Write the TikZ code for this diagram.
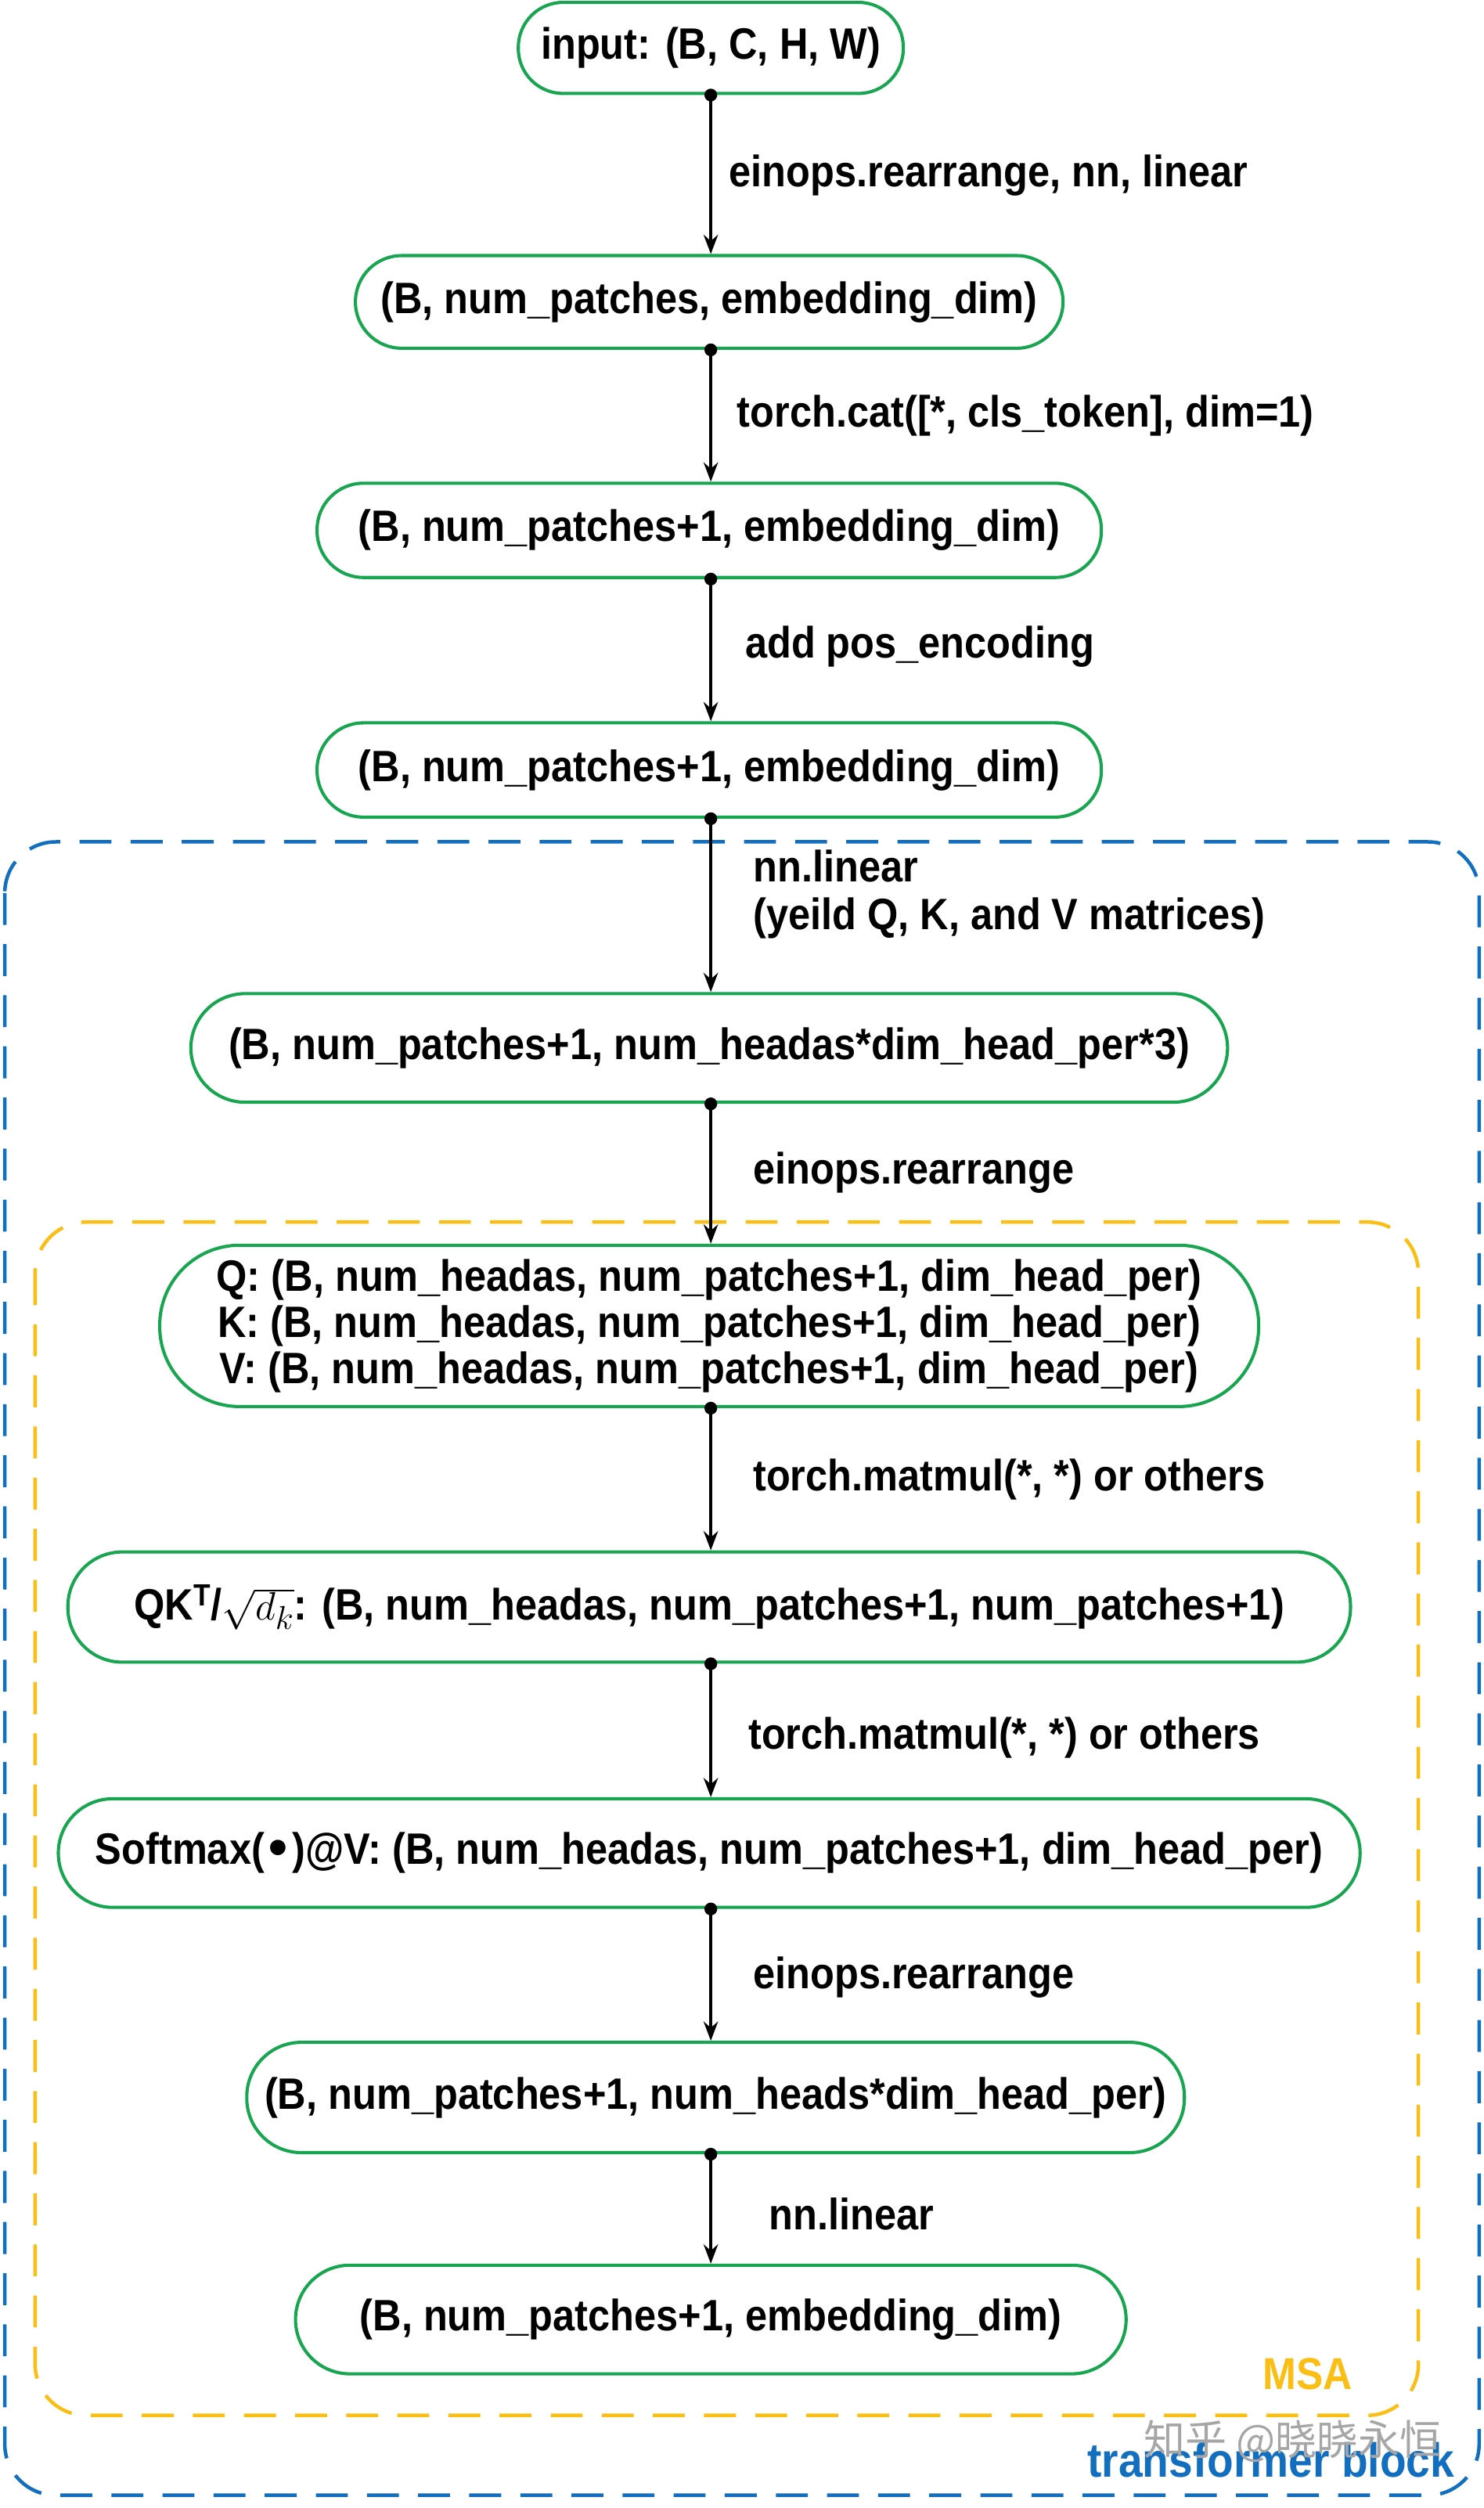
\documentclass[tikz,border=0pt]{standalone}
\usepackage{fontspec}
\setmainfont{Liberation Sans}[FakeStretch=0.9]
\newfontfamily\cjk{Noto Sans CJK SC}
\usetikzlibrary{arrows.meta}
\definecolor{gr}{RGB}{24,165,80}
\definecolor{bl}{RGB}{18,110,190}
\definecolor{yl}{RGB}{250,190,20}
\tikzset{
 box/.style={draw=gr,line width=2pt,rounded corners=#1,inner sep=0pt,font=\fontsize{27.5}{29}\selectfont\bfseries,align=center},
 conn/.style={line width=1.8pt,-{Stealth[length=12pt,width=9pt]}},
 lab/.style={anchor=west,font=\fontsize{27.5}{30}\selectfont\bfseries,align=left},
 dotc/.style={fill,circle,inner sep=0pt,minimum size=8pt}
}
\begin{document}
\begin{tikzpicture}[x=1pt,y=-1pt]
\useasboundingbox (0,0) rectangle (929,1570);
\draw[bl,line width=2.2pt,dash pattern=on 20pt off 12pt,rounded corners=32pt] (3,527) rectangle (926,1562);
\draw[yl,line width=2.2pt,dash pattern=on 20pt off 12pt,rounded corners=32pt] (22,765) rectangle (888,1512);
\node[box=28pt,minimum width=241pt,minimum height=57pt] (n1) at (445,30) {input: (B, C, H, W)};
\node[box=29pt,minimum width=443pt,minimum height=58pt] (n2) at (444,189) {(B, num\_patches, embedding\_dim)};
\node[box=29pt,minimum width=491pt,minimum height=59pt] (n3) at (444,332) {(B, num\_patches+1, embedding\_dim)};
\node[box=29pt,minimum width=491pt,minimum height=59pt] (n4) at (444,482) {(B, num\_patches+1, embedding\_dim)};
\node[box=34pt,minimum width=649pt,minimum height=68pt] (n5) at (444,656) {(B, num\_patches+1, num\_headas*dim\_head\_per*3)};
\node[box=50pt,minimum width=688pt,minimum height=101pt] (n6) at (444,830) {Q: (B, num\_headas, num\_patches+1, dim\_head\_per)\\K: (B, num\_headas, num\_patches+1, dim\_head\_per)\\V: (B, num\_headas, num\_patches+1, dim\_head\_per)};
\node[box=34pt,minimum width=803pt,minimum height=69pt] (n7) at (444,1006) {QK\textsuperscript{T}/$\sqrt{d_k}$: (B, num\_headas, num\_patches+1, num\_patches+1)};
\node[box=34pt,minimum width=815pt,minimum height=68pt] (n8) at (444,1160) {Softmax({\fontspec{DejaVu Sans}•})@V: (B, num\_headas, num\_patches+1, dim\_head\_per)};
\node[box=34pt,minimum width=587pt,minimum height=69pt] (n9) at (448,1313) {(B, num\_patches+1, num\_heads*dim\_head\_per)};
\node[box=34pt,minimum width=520pt,minimum height=68pt] (n10) at (445,1452) {(B, num\_patches+1, embedding\_dim)};
\foreach \a/\b in {n1/n2,n2/n3,n3/n4,n4/n5,n5/n6,n6/n7,n7/n8,n8/n9,n9/n10}{
  \node[dotc] at (\a.south -| 445,0) {};
  \draw[conn] (\a.south -| 445,0) -- (\b.north -| 445,0);
}
\node[lab] at (453,110) {einops.rearrange, nn, linear};
\node[lab] at (458,260) {torch.cat([*, cls\_token], dim=1)};
\node[lab] at (463,405) {add pos\_encoding};
\node[lab] at (468,560) {nn.linear\\(yeild Q, K, and V matrices)};
\node[lab] at (468,734) {einops.rearrange};
\node[lab] at (468,926) {torch.matmul(*, *) or others};
\node[lab] at (465,1088) {torch.matmul(*, *) or others};
\node[lab] at (468,1238) {einops.rearrange};
\node[lab] at (478,1386) {nn.linear};
\node[anchor=east,text=yl,font=\fontsize{28}{30}\selectfont\bfseries] (msa) at (850,1486) {MSA};
\node[anchor=east,text=bl,font=\fontsize{30}{32}\selectfont\bfseries] (tb) at (914,1540) {transformer block};
\node[anchor=east,text=black!35,font=\fontsize{26}{28}\selectfont\cjk] (wm) at (906,1528) {知乎 @晓晓永恒};
\end{tikzpicture}
\end{document}
